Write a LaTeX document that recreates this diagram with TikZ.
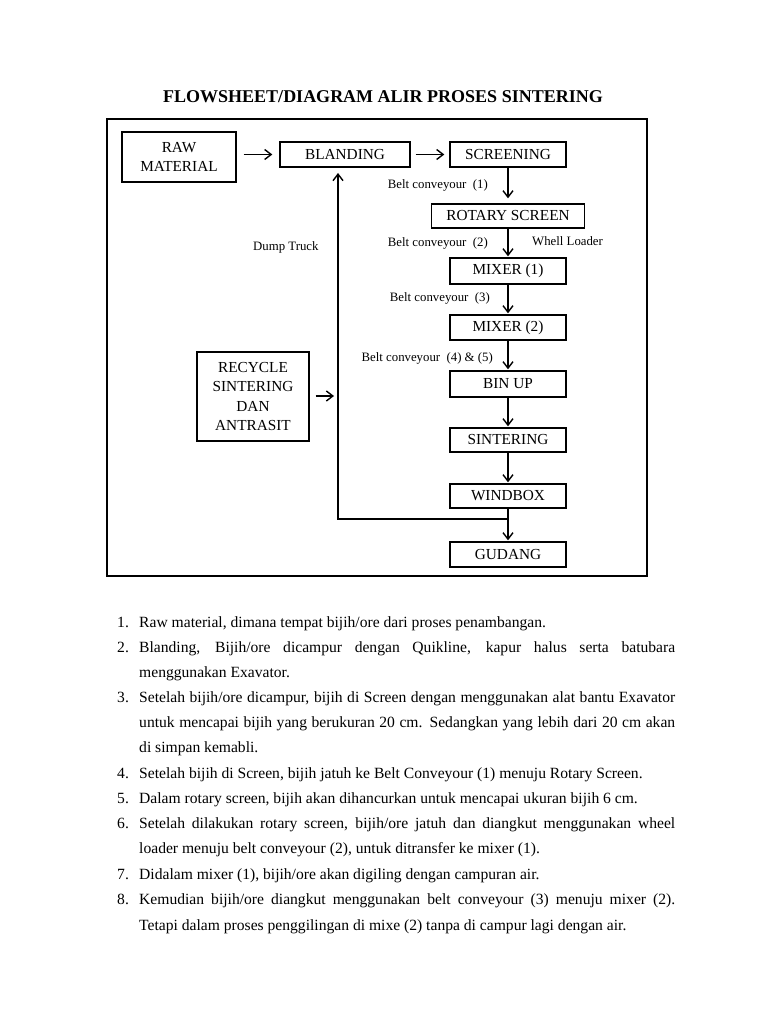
\documentclass[tikz,border=0pt]{standalone}
\usepackage{fontspec}
\setmainfont{Liberation Serif}
\usetikzlibrary{arrows.meta,calc}
\begin{document}
\begin{tikzpicture}[x=1pt,y=-1pt,
  box/.style={draw,line width=1.4pt,rectangle,inner sep=0pt,align=center,font=\fontsize{15.3}{19.5}\selectfont},
  arr/.style={line width=1.4pt,-{Straight Barb[length=6.5pt,width=10pt,line width=1.4pt]}},
  lbl/.style={inner sep=0pt,font=\fontsize{12.8}{14}\selectfont},
  lt/.style={inner sep=0pt,anchor=base west,font=\fontsize{15.6}{18}\selectfont}]
\useasboundingbox (0,0) rectangle (768,1024);
\node[inner sep=0pt,anchor=base,font=\bfseries\fontsize{18}{20}\selectfont] (title) at (383,102.5) {FLOWSHEET/DIAGRAM ALIR PROSES SINTERING};
\draw[line width=2.8pt] (107,119) rectangle (647,576);
% boxes
\node[box,minimum width=114pt,minimum height=50pt] (raw) at (179,157) {RAW\\MATERIAL};
\node[box,minimum width=130pt,minimum height=25pt] (bland) at (345,154.5) {BLANDING};
\node[box,minimum width=116pt,minimum height=25pt] (screen) at (508,154.5) {SCREENING};
\node[box,minimum width=153pt,minimum height=24pt] (rotary) at (508,216) {ROTARY SCREEN};
\node[box,minimum width=116pt,minimum height=26pt] (mix1) at (508,271) {MIXER (1)};
\node[box,minimum width=116pt,minimum height=25pt] (mix2) at (508,327.5) {MIXER (2)};
\node[box,minimum width=116pt,minimum height=26pt] (binup) at (508,384) {BIN UP};
\node[box,minimum width=116pt,minimum height=24pt] (sinter) at (508,440) {SINTERING};
\node[box,minimum width=116pt,minimum height=24pt] (windbox) at (508,496) {WINDBOX};
\node[box,minimum width=116pt,minimum height=25pt] (gudang) at (508,554.5) {GUDANG};
\node[box,minimum width=112pt,minimum height=89pt] (recycle) at (253,396.5) {RECYCLE\\SINTERING\\DAN\\ANTRASIT};
% arrows
\draw[arr,shorten <=7pt,shorten >=7pt] (raw.east |- bland) -- (bland.west);
\draw[arr,shorten <=5pt,shorten >=5pt] (bland) -- (screen);
\draw[arr,shorten >=5pt] (screen) -- (rotary);
\draw[arr,shorten >=1pt] (rotary) -- (mix1);
\draw[arr,shorten >=1pt] (mix1) -- (mix2);
\draw[arr,shorten >=1pt] (mix2) -- (binup);
\draw[arr,shorten >=1pt] (binup) -- (sinter);
\draw[arr,shorten >=1pt] (sinter) -- (windbox);
\draw[arr,shorten >=1pt] (windbox) -- (gudang);
\coordinate (jn) at (508,519);
\coordinate (up) at (338,173);
\draw[arr] (jn) -| (up);
\coordinate (rin) at (334,396);
\draw[arr,shorten <=6pt] (recycle.east |- rin) -- (rin);
% labels
\node[lbl,anchor=east] (l1) at (488,185) {Belt conveyour\ \ (1)};
\node[lbl,anchor=east] (l2) at (488,243) {Belt conveyour\ \ (2)};
\node[lbl,anchor=west] (wl) at (532,241) {Whell Loader};
\node[lbl,anchor=west] (dt) at (253,247) {Dump Truck};
\node[lbl,anchor=east] (l3) at (490,298) {Belt conveyour\ \ (3)};
\node[lbl,anchor=east] (l4) at (493,358) {Belt conveyour\ \ (4) \& (5)};
% list
\node[lt] (n1) at (117,627) {1.};
\node[lt] (t1) at (139,627) {Raw material, dimana tempat bijih/ore dari proses penambangan.};
\node[lt] (n2) at (117,652) {2.};
\node[lt] (t2) at (139,652) {\hbox to 536pt{Blanding, Bijih/ore dicampur dengan Quikline, kapur halus serta batubara}};
\node[lt] (t2b) at (139,677) {menggunakan Exavator.};
\node[lt] (n3) at (117,702) {3.};
\node[lt] (t3) at (139,702) {\hbox to 536pt{Setelah bijih/ore dicampur, bijih di Screen dengan menggunakan alat bantu Exavator}};
\node[lt] (t3b) at (139,727) {\hbox to 536pt{untuk mencapai bijih yang berukuran 20 cm. Sedangkan yang lebih dari 20 cm akan}};
\node[lt] (t3c) at (139,752) {di simpan kemabli.};
\node[lt] (n4) at (117,778) {4.};
\node[lt] (t4) at (139,778) {Setelah bijih di Screen, bijih jatuh ke Belt Conveyour (1) menuju Rotary Screen.};
\node[lt] (n5) at (117,803) {5.};
\node[lt] (t5) at (139,803) {Dalam rotary screen, bijih akan dihancurkan untuk mencapai ukuran bijih 6 cm.};
\node[lt] (n6) at (117,828) {6.};
\node[lt] (t6) at (139,828) {\hbox to 536pt{Setelah dilakukan rotary screen, bijih/ore jatuh dan diangkut menggunakan wheel}};
\node[lt] (t6b) at (139,853) {loader menuju belt conveyour (2), untuk ditransfer ke mixer (1).};
\node[lt] (n7) at (117,879) {7.};
\node[lt] (t7) at (139,879) {Didalam mixer (1), bijih/ore akan digiling dengan campuran air.};
\node[lt] (n8) at (117,904) {8.};
\node[lt] (t8) at (139,904) {\hbox to 536pt{Kemudian bijih/ore diangkut menggunakan belt conveyour (3) menuju mixer (2).}};
\node[lt] (t8b) at (139,930) {Tetapi dalam proses penggilingan di mixe (2) tanpa di campur lagi dengan air.};
\end{tikzpicture}
\end{document}
